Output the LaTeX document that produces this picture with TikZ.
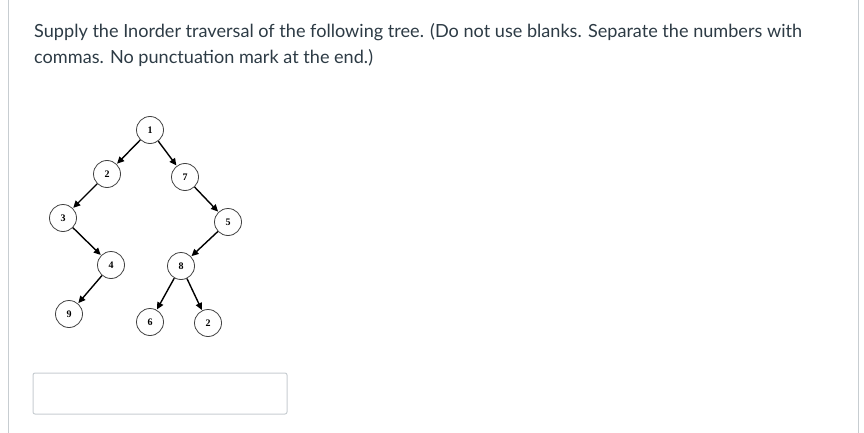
\documentclass[tikz,border=0pt]{standalone}
\usepackage{fontspec}
\setmainfont{Lato}
\newfontfamily\arbrefont{Liberation Serif}
\usepackage{xcolor}
\usetikzlibrary{positioning}
\usetikzlibrary{arrows.meta,calc}
\definecolor{texte}{HTML}{2D3B45}
\definecolor{cadre}{HTML}{C7CDD1}

\begin{document}
\begin{tikzpicture}[
x=1pt, y=-1pt,
noeud/.style = {
  circle,
  draw=black!75,
  line width=0.8pt,
  minimum size=27pt,
  inner sep=0pt,
  font=\arbrefont\bfseries\fontsize{10}{10}\selectfont},
line/.style = {draw=black, line width=1.4pt, -{Triangle[length=7pt,width=6.5pt]}, shorten >=0.5pt},
consigne/.style = {anchor=base west, text=texte, font=\fontsize{18.1}{18.1}\selectfont, inner sep=0pt},
on grid,
]
\useasboundingbox (0,0) rectangle (864,433);
\draw[cadre, line width=1pt] (8,0) -- (8,433);
\draw[cadre, line width=1pt] (858,0) -- (858,433);

% consigne
\node[consigne] (ligne1) at (34,38) {Supply the Inorder traversal of the following tree. (Do not use blanks. Separate the numbers with};
\node[consigne] (ligne2) at (34,64) {commas. No punctuation mark at the end.)};

% arbre
\node[noeud] (n1) at (150,130) {1};
\node[noeud, below left = 44pt and 43pt of n1] (n2) {2};
\node[noeud, below right = 47pt and 35pt of n1] (n7) {7};
\node[noeud, below left = 44pt and 44pt of n2] (n3) {3};
\node[noeud, below right = 45pt and 43pt of n7] (n5) {5};
\node[noeud, below right = 47pt and 48pt of n3] (n4) {4};
\node[noeud, below left = 44pt and 47pt of n5] (n8) {8};
\node[noeud, below left = 49pt and 42pt of n4] (n9) {9};
\node[noeud, below left = 56pt and 31pt of n8] (n6) {6};
\node[noeud, below right = 57pt and 27pt of n8] (n2b) {2};

 \begin{scope}[every path/.style=line]
\path(n1) -- (n2) ;
\path(n1) -- (n7) ;
\path(n2) -- (n3) ;
\path(n7) -- (n5) ;
\path(n3) -- (n4) ;
\path(n5) -- (n8) ;
\path(n4) -- (n9) ;
\path(n8) -- (n6) ;
\path(n8) -- (n2b) ;
\end{scope}

% reponse
\draw[cadre, line width=1pt, rounded corners=2pt] (33,373) rectangle (287,414);

\end{tikzpicture}
\end{document}
